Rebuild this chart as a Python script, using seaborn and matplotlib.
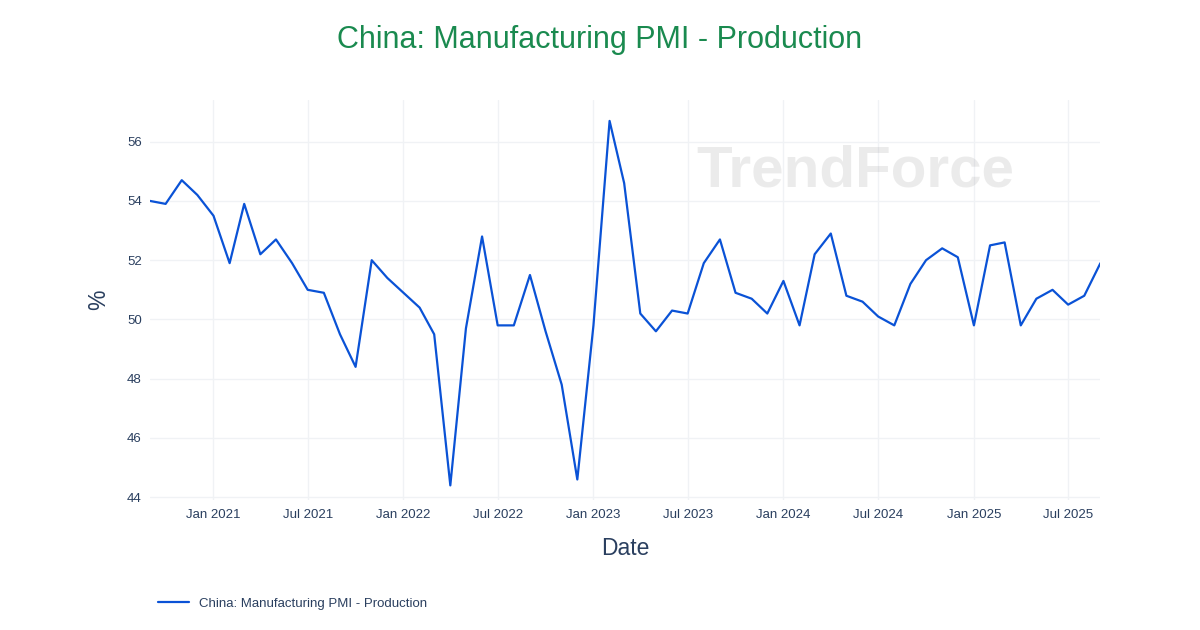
import matplotlib
matplotlib.use("Agg")
import matplotlib.pyplot as plt
import matplotlib.dates as mdates
import seaborn as sns
import pandas as pd

start = "2020-09-01"
values = [54.0,53.9,54.7,54.2,53.5,51.9,53.9,52.2,52.7,51.9,51.0,50.9,49.5,48.4,52.0,51.4,
          50.9,50.4,49.5,44.4,49.7,52.8,49.8,49.8,51.5,49.6,47.8,44.6,49.8,56.7,54.6,50.2,
          49.6,50.3,50.2,51.9,52.7,50.9,50.7,50.2,51.3,49.8,52.2,52.9,50.8,50.6,50.1,49.8,
          51.2,52.0,52.4,52.1,49.8,52.5,52.6,49.8,50.7,51.0,50.5,50.8,51.9]
dates = pd.date_range(start, periods=len(values), freq="MS")
df = pd.DataFrame({"Date": dates, "v": values})
series = "China: Manufacturing PMI - Production"

sns.set_style("white")
plt.rcParams['font.family'] = ['Liberation Sans', 'DejaVu Sans']
fig = plt.figure(figsize=(12, 6.3), dpi=100)
ax = fig.add_axes([0.125, 0.206, 0.792, 0.635])
sns.lineplot(data=df, x="Date", y="v", ax=ax, color="#0a52d6", linewidth=1.6, label=series, legend=False)
ax.set_xlim(dates[0], dates[-1])
ax.set_ylim(43.9, 57.4)
ax.set_yticks([44, 46, 48, 50, 52, 54, 56])
ticks = pd.date_range("2021-01-01", "2025-07-01", freq="6MS")
ax.set_xticks(ticks)
ax.xaxis.set_major_formatter(mdates.DateFormatter("%b %Y"))
ax.grid(True, color="#f0f2f5", linewidth=1)
for s in ax.spines.values():
    s.set_visible(False)
ax.tick_params(axis="both", length=0, labelsize=9.5, colors="#2a3f5f", pad=6)
ax.set_xlabel("Date", fontsize=16.5, color="#2a3f5f", labelpad=12)
ax.set_ylabel("%", fontsize=16.5, color="#2a3f5f", labelpad=12)
fig.text(0.5, 0.937, series, ha="center", va="center", fontsize=22, color="#1a8a4f")
fig.text(0.713, 0.727, "TrendForce", ha="center", va="center", fontsize=42, color="#888888",
         alpha=0.16, fontweight="bold")
h = ax.get_lines()[0]
fig.legend([h], [series], loc="center left", bbox_to_anchor=(0.122, 0.042), frameon=False,
           fontsize=9.5, labelcolor="#2a3f5f", handlelength=2.3)
fig.savefig("out.png", dpi=100)
